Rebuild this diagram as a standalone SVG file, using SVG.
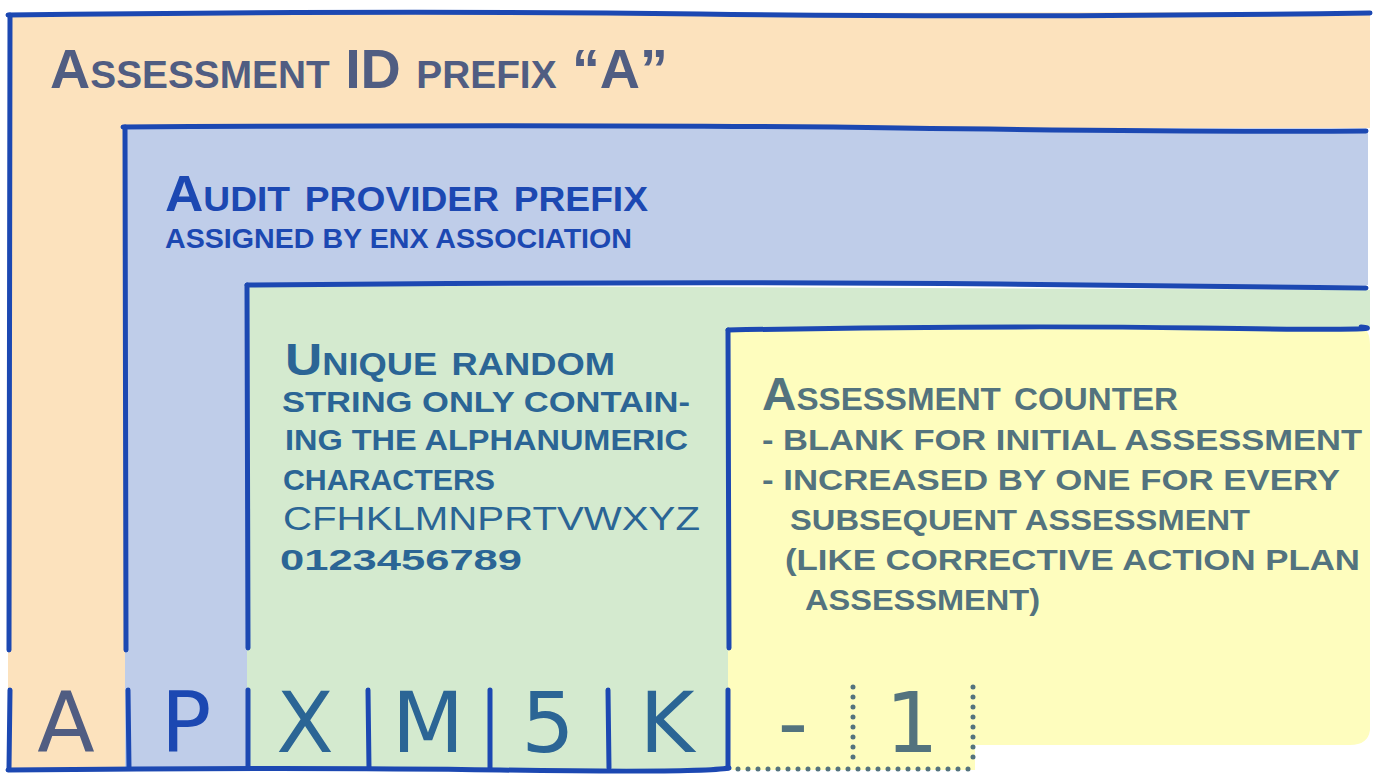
<svg xmlns="http://www.w3.org/2000/svg" width="1373" height="778" viewBox="0 0 1373 778">
<style>
.b{fill:none;stroke:#1C48B2;stroke-width:5;stroke-linecap:round;stroke-linejoin:round}
.d{fill:none;stroke:#53737E;stroke-width:5;stroke-linecap:round;stroke-dasharray:0 10}
.t{font-family:"Liberation Sans",Arial,sans-serif;font-variant:small-caps;font-weight:bold}
.u{font-family:"Liberation Sans",Arial,sans-serif;text-transform:uppercase;font-weight:bold;font-size:30px}
.big{font-family:"DejaVu Sans","Liberation Sans",sans-serif;font-size:84px;text-anchor:middle}
</style>
<rect width="1373" height="778" fill="#ffffff"/>
<g id="prefix-a">
<path d="M8 14 L1370 12 L1370 128 L125 128 L125 770 L8 770 Z" fill="#FCE2BD"/>
<path class="b" d="M8 15 Q400 10 700 14 T1370 13"/>
<path class="b" d="M10 15 L9 650"/>
<text class="t" x="50" y="88" font-size="56" fill="#505D82" textLength="618" lengthAdjust="spacingAndGlyphs">Assessment ID prefix “A”</text>
</g>
<g id="audit-provider">
<path d="M125 127 L1368 130 L1368 285 L247 285 L247 770 L125 770 Z" fill="#BFCDE9"/>
<path class="b" d="M123 127 Q600 124 900 128 T1366 131"/>
<path class="b" d="M125 127 L126 650"/>
<text class="t" x="165" y="211" font-size="50" fill="#1C48B2" textLength="483" lengthAdjust="spacingAndGlyphs">Audit provider prefix</text>
<text class="u" x="165" y="248" style="font-size:28px" fill="#1C48B2" textLength="467" lengthAdjust="spacingAndGlyphs">assigned by ENX Association</text>
</g>
<g id="random-string">
<path d="M247 285 L1370 290 L1370 328 L728 328 L728 770 L247 770 Z" fill="#D4EACF"/>
<path class="b" d="M247 285 Q700 281 1000 284 T1366 288"/>
<path class="b" d="M247 285 L248 648"/>
<g fill="#2B6595">
<text class="t" x="285" y="375" font-size="44" textLength="330" lengthAdjust="spacingAndGlyphs">Unique random</text>
<text class="u" x="282" y="412" textLength="408" lengthAdjust="spacingAndGlyphs">string only contain-</text>
<text class="u" x="285" y="450" textLength="403" lengthAdjust="spacingAndGlyphs">ing the alphanumeric</text>
<text class="u" x="283" y="490" textLength="212" lengthAdjust="spacingAndGlyphs">characters</text>
<text class="u" x="283" y="530" style="font-weight:normal;font-size:33px" textLength="417" lengthAdjust="spacingAndGlyphs">CFHKLMNPRTVWXYZ</text>
<text class="u" x="280" y="570" textLength="242" lengthAdjust="spacingAndGlyphs">0123456789</text>
</g>
</g>
<g id="counter">
<path d="M728 328 L1362 328 Q1370 330 1370 345 L1370 730 Q1368 745 1350 745 L975 745 L975 770 L728 770 Z" fill="#FEFDBE"/>
<path class="b" d="M728 330 Q1000 325 1200 328 T1361 327"/>
<path class="b" d="M728 330 L729 648"/>
<g fill="#53737E">
<text class="t" x="762" y="410" font-size="46" textLength="416" lengthAdjust="spacingAndGlyphs">Assessment counter</text>
<text class="u" x="762" y="450" textLength="600" lengthAdjust="spacingAndGlyphs">- blank for initial assessment</text>
<text class="u" x="762" y="490" textLength="578" lengthAdjust="spacingAndGlyphs">- increased by one for every</text>
<text class="u" x="790" y="530" textLength="460" lengthAdjust="spacingAndGlyphs">subsequent assessment</text>
<text class="u" x="785" y="570" textLength="575" lengthAdjust="spacingAndGlyphs">(like corrective action plan</text>
<text class="u" x="805" y="610" textLength="235" lengthAdjust="spacingAndGlyphs">assessment)</text>
</g>
</g>
<g id="example-id">
<path class="b" d="M10 690 L9 768 M128 690 L129 768 M248 690 L248 768 M368 690 L369 768 M490 690 L490 768 M608 690 L609 768 M728 690 L728 768"/>
<path class="b" d="M8 770 Q300 767 500 770 T729 768"/>
<path class="d" d="M738 769 L975 769 M853 687 L853 764 M973 687 L973 764"/>
<text class="big" x="66" y="752" fill="#505D82">A</text>
<text class="big" x="186" y="752" fill="#1C48B2">P</text>
<text class="big" x="305" y="752" fill="#2B6595">X</text>
<text class="big" x="428" y="752" fill="#2B6595">M</text>
<text class="big" x="548" y="752" fill="#2B6595">5</text>
<text class="big" x="667" y="752" fill="#2B6595">K</text>
<text class="big" x="793" y="752" fill="#53737E">-</text>
<text class="big" x="912" y="752" fill="#53737E">1</text>
</g>
</svg>
